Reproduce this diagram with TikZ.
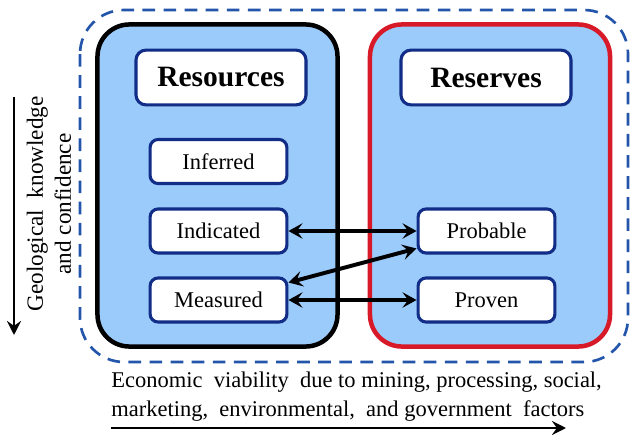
\documentclass[tikz,border=0pt]{standalone}
\usepackage{fontspec}
\setmainfont{Liberation Serif}
\usetikzlibrary{arrows.meta,shadows}

\definecolor{boxblue}{RGB}{155,203,250}
\definecolor{dashblue}{RGB}{35,85,170}
\definecolor{edgeblue}{RGB}{18,45,135}
\definecolor{resred}{RGB}{215,25,40}

\tikzset{
  bigbox/.style={draw, line width=3.2pt, fill=boxblue, rounded corners=0.8cm,
    minimum width=6.0cm, minimum height=8.05cm,
    drop shadow={shadow xshift=1pt, shadow yshift=-1pt, opacity=0.35}},
  titlebox/.style={draw=edgeblue, line width=2.2pt, fill=white, rounded corners=0.25cm,
    minimum width=4.25cm, minimum height=1.37cm, font=\fontsize{21}{25}\selectfont\bfseries,
    drop shadow={shadow xshift=1pt, shadow yshift=-1pt, opacity=0.3}},
  classbox/.style={draw=edgeblue, line width=2.2pt, fill=white, rounded corners=0.2cm,
    minimum width=3.42cm, minimum height=1.1cm, font=\fontsize{16}{19}\selectfont,
    drop shadow={shadow xshift=1pt, shadow yshift=-1pt, opacity=0.3}},
  link/.style={line width=2.8pt, {Stealth[length=10pt,width=11pt,inset=4pt]}-{Stealth[length=10pt,width=11pt,inset=4pt]}},
  axisarrow/.style={line width=2pt, -{Stealth[length=10pt,width=10pt,inset=3.5pt]}}
}

\begin{document}
\begin{tikzpicture}[x=0.025cm, y=-0.025cm]
  \useasboundingbox (0,0) rectangle (640,447);

  % 1. outer dashed frame
  \draw[dashblue, line width=1.9pt, dash pattern=on 9pt off 6pt, rounded corners=1.1cm]
    (80,10) rectangle (628,362);

  % 2. the two groups
  \node[bigbox] (resources) at (217.5,185.5) {};
  \node[bigbox, draw=resred] (reserves) at (490,185.5) {};

  \node[titlebox] (resTitle) at (221,77.5) {Resources};
  \node[titlebox] (rsvTitle) at (486,77.5) {Reserves};

  % 3. categories
  \node[classbox] (inferred)  at (218.5,161.5) {Inferred};
  \node[classbox] (indicated) at (218.5,231) {Indicated};
  \node[classbox] (measured)  at (218.5,300) {Measured};
  \node[classbox] (probable)  at (486.5,231) {Probable};
  \node[classbox] (proven)    at (486.5,300) {Proven};

  % 4. links between categories
  \draw[link] (indicated.east) -- (probable.west);
  \draw[link] (measured.14) -- (probable.194);
  \draw[link] (measured.east) -- (proven.west);

  % 5. axes and their labels
  \coordinate (geoTop) at (14,97);
  \coordinate (geoBot) at (14,335);
  \draw[axisarrow] (geoTop) -- (geoBot);
  \node[rotate=90, align=center, font=\fontsize{16.5}{20}\selectfont] (geoLabel) at (49,204)
    {Geological\ \ knowledge\\and confidence};

  \coordinate (ecoLeft) at (111,428);
  \coordinate (ecoRight) at (566,428);
  \draw[axisarrow, line width=1.6pt] (ecoLeft) -- (ecoRight);
  \node[anchor=north west, align=left, inner sep=0pt, font=\fontsize{16}{20}\selectfont] (ecoLabel) at (111,372)
    {Economic\ \ viability\ \ due to mining,\ processing,\ social,\\
     marketing,\ \ environmental,\ \ and government\ \ factors};
\end{tikzpicture}
\end{document}
